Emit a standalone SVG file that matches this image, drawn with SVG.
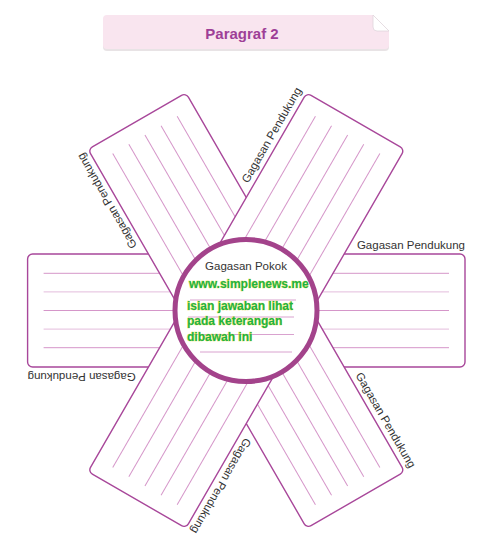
<svg xmlns="http://www.w3.org/2000/svg" width="482" height="537" viewBox="0 0 482 537">
<style>
.card{fill:#ffffff;stroke:#a8479a;stroke-width:1.4}
.ln{stroke:#d596c9;stroke-width:1;fill:none}
.ln2{stroke:#e4bcdc;stroke-width:1;fill:none}
.lbl{font-family:"Liberation Sans",Arial,sans-serif;font-size:11.5px;fill:#333333;text-anchor:end}
.grn{font-family:"Liberation Sans",Arial,sans-serif;font-size:12px;font-weight:bold;fill:#1db344;stroke:#e6e04a;stroke-width:0.7;paint-order:stroke}
.cl{stroke:#d9a2cf;stroke-width:1;fill:none}
</style>
<rect width="482" height="537" fill="#ffffff"/>
<g id="title">
<path d="M107,17 H373 L389,33 V47 Q389,51 385,51 H107 Q103,51 103,47 V21 Q103,17 107,17 Z" fill="#d8d0d4" opacity="0.6"/>
<path d="M107,15 H373 L389,31 V45 Q389,49 385,49 H107 Q103,49 103,45 V19 Q103,15 107,15 Z" fill="#f9e5ef"/>
<path d="M373,15 L389,31 H377 Q373,31 373,27 Z" fill="#ffffff" stroke="#e0d6dc" stroke-width="0.8"/>
<text x="242" y="38.5" font-family="Liberation Sans,Arial,sans-serif" font-size="15" font-weight="bold" fill="#9e3f97" text-anchor="middle">Paragraf 2</text>
</g>
<g id="connectors"></g>
<g id="card-right" transform="translate(246.3,310.5) rotate(0)">
<rect class="card" x="0" y="-56.5" width="218.7" height="113" rx="5"/>
<line class="ln" x1="0" y1="-37.2" x2="202.7" y2="-37.2"/>
<line class="ln2" x1="0" y1="-18.6" x2="202.7" y2="-18.6"/>
<line class="ln" x1="0" y1="0" x2="202.7" y2="0"/>
<line class="ln2" x1="0" y1="18.6" x2="202.7" y2="18.6"/>
<line class="ln" x1="0" y1="37.2" x2="202.7" y2="37.2"/>
<text class="lbl" x="218.7" y="-62">Gagasan Pendukung</text>
</g>
<g id="card-left" transform="translate(246.3,310.5) rotate(180)">
<rect class="card" x="0" y="-56.5" width="218.7" height="113" rx="5"/>
<line class="ln" x1="0" y1="-37.2" x2="202.7" y2="-37.2"/>
<line class="ln2" x1="0" y1="-18.6" x2="202.7" y2="-18.6"/>
<line class="ln" x1="0" y1="0" x2="202.7" y2="0"/>
<line class="ln2" x1="0" y1="18.6" x2="202.7" y2="18.6"/>
<line class="ln" x1="0" y1="37.2" x2="202.7" y2="37.2"/>
<text class="lbl" x="218.7" y="-62">Gagasan Pendukung</text>
</g>
<g id="card-lower-right" transform="translate(246.3,310.5) rotate(60)">
<rect class="card" x="0" y="-56.5" width="218.7" height="113" rx="5"/>
<line class="ln" x1="0" y1="-37.2" x2="202.7" y2="-37.2"/>
<line class="ln" x1="0" y1="-18.6" x2="202.7" y2="-18.6"/>
<line class="ln" x1="0" y1="0" x2="202.7" y2="0"/>
<line class="ln" x1="0" y1="18.6" x2="202.7" y2="18.6"/>
<line class="ln" x1="0" y1="37.2" x2="202.7" y2="37.2"/>
<text class="lbl" x="218.7" y="-62">Gagasan Pendukung</text>
</g>
<g id="card-upper-left" transform="translate(246.3,310.5) rotate(240)">
<rect class="card" x="0" y="-56.5" width="218.7" height="113" rx="5"/>
<line class="ln" x1="0" y1="-37.2" x2="202.7" y2="-37.2"/>
<line class="ln" x1="0" y1="-18.6" x2="202.7" y2="-18.6"/>
<line class="ln" x1="0" y1="0" x2="202.7" y2="0"/>
<line class="ln" x1="0" y1="18.6" x2="202.7" y2="18.6"/>
<line class="ln" x1="0" y1="37.2" x2="202.7" y2="37.2"/>
<text class="lbl" x="218.7" y="-62">Gagasan Pendukung</text>
</g>
<g id="card-lower-left" transform="translate(246.3,310.5) rotate(120)">
<rect class="card" x="0" y="-56.5" width="218.7" height="113" rx="5"/>
<line class="ln" x1="0" y1="-37.2" x2="202.7" y2="-37.2"/>
<line class="ln" x1="0" y1="-18.6" x2="202.7" y2="-18.6"/>
<line class="ln" x1="0" y1="0" x2="202.7" y2="0"/>
<line class="ln" x1="0" y1="18.6" x2="202.7" y2="18.6"/>
<line class="ln" x1="0" y1="37.2" x2="202.7" y2="37.2"/>
<text class="lbl" x="218.7" y="-62">Gagasan Pendukung</text>
</g>
<g id="card-upper-right" transform="translate(246.3,310.5) rotate(300)">
<rect class="card" x="0" y="-56.5" width="218.7" height="113" rx="5"/>
<line class="ln" x1="0" y1="-37.2" x2="202.7" y2="-37.2"/>
<line class="ln" x1="0" y1="-18.6" x2="202.7" y2="-18.6"/>
<line class="ln" x1="0" y1="0" x2="202.7" y2="0"/>
<line class="ln" x1="0" y1="18.6" x2="202.7" y2="18.6"/>
<line class="ln" x1="0" y1="37.2" x2="202.7" y2="37.2"/>
<text class="lbl" x="218.7" y="-62">Gagasan Pendukung</text>
</g>
<g id="center">
<circle cx="246" cy="310.5" r="71" fill="#ffffff" stroke="#a3438b" stroke-width="5"/>
<text x="246" y="270" font-family="Liberation Sans,Arial,sans-serif" font-size="11.5" fill="#333333" text-anchor="middle">Gagasan Pokok</text>
<line class="cl" x1="190" y1="300" x2="296" y2="300"/>
<line class="cl" x1="188" y1="317" x2="294" y2="317"/>
<line class="cl" x1="188" y1="334.5" x2="294" y2="334.5"/>
<line class="cl" x1="200" y1="352" x2="292" y2="352"/>
<text class="grn" x="189" y="288">www.simplenews.me</text>
<text class="grn" x="187" y="310">isian jawaban lihat</text>
<text class="grn" x="187" y="325">pada keterangan</text>
<text class="grn" x="187" y="341">dibawah ini</text>
</g>
</svg>
